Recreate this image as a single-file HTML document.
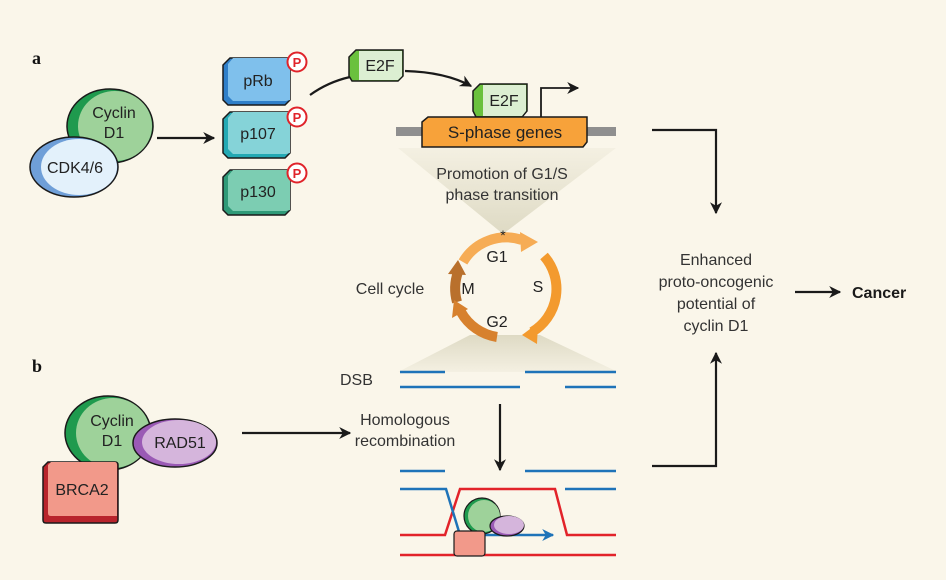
<!DOCTYPE html>
<html><head><meta charset="utf-8"><style>
html,body{margin:0;padding:0;background:#faf6ea;}
svg{display:block;font-family:"Liberation Sans",sans-serif;}
</style></head><body>
<svg width="946" height="580" viewBox="0 0 946 580" xmlns="http://www.w3.org/2000/svg">
<defs>
<linearGradient id="fan1" x1="0" y1="0" x2="0" y2="1"><stop offset="0" stop-color="#f4f0e2"/><stop offset="1" stop-color="#dedac4"/></linearGradient>
<linearGradient id="fan2" x1="0" y1="0" x2="0" y2="1"><stop offset="0" stop-color="#dedac4"/><stop offset="1" stop-color="#f4f0e2"/></linearGradient>
<marker id="ahb" viewBox="0 0 10 10" refX="9" refY="5" markerWidth="12" markerHeight="12" orient="auto" markerUnits="userSpaceOnUse"><path d="M0,0 L10,5 L0,10 L3,5z" fill="#1a1a1a"/></marker>
<marker id="ahblue" viewBox="0 0 10 10" refX="9" refY="5" markerWidth="12" markerHeight="12" orient="auto" markerUnits="userSpaceOnUse"><path d="M0,0 L10,5 L0,10 L3,5z" fill="#1e73b8"/></marker>
</defs>
<rect width="946" height="580" fill="#faf6ea"/>

<polygon points="398,148 616,148 503,234" fill="url(#fan1)"/>
<polygon points="470,335 540,335 618,372 398,372" fill="url(#fan2)"/>

<text x="32" y="64" font-family="Liberation Serif,serif" font-weight="bold" font-size="18" fill="#111">a</text>
<text x="32" y="372" font-family="Liberation Serif,serif" font-weight="bold" font-size="18" fill="#111">b</text>

<ellipse cx="110" cy="126" rx="43" ry="37" fill="#1f9a4e" stroke="#1a1a1a" stroke-width="1.5"/>
<ellipse cx="115" cy="126" rx="37" ry="35" fill="#9ed29a"/>
<text x="114" y="118" font-size="16" text-anchor="middle" fill="#222">Cyclin</text>
<text x="114" y="138" font-size="16" text-anchor="middle" fill="#222">D1</text>
<ellipse cx="74" cy="167" rx="44" ry="30" fill="#6f9fd8" stroke="#1a1a1a" stroke-width="1.5"/>
<ellipse cx="79" cy="167" rx="38" ry="28" fill="#e3f1fb"/>
<text x="75" y="173" font-size="16" text-anchor="middle" fill="#222">CDK4/6</text>
<line x1="157" y1="138" x2="214" y2="138" stroke="#1a1a1a" stroke-width="2.2" marker-end="url(#ahb)"/>

<g stroke="#1a1a1a" stroke-width="1.5">
<path d="M230,58 H290 V100 L285,105 H228 L223,100 V65 Z" fill="#2f7fc9"/>
<path d="M233,58 H290 V100 L286,101 H233 L228,96 V64 Z" fill="#7fc0ec" stroke="none"/>
<path d="M230,112 H290 V153 L285,158 H228 L223,153 V119 Z" fill="#23a9b4"/>
<path d="M233,112 H290 V153 L286,154 H233 L228,149 V118 Z" fill="#85d3d8" stroke="none"/>
<path d="M230,170 H290 V210 L285,215 H228 L223,210 V177 Z" fill="#2f9a78"/>
<path d="M233,170 H290 V210 L286,211 H233 L228,206 V176 Z" fill="#7ccdb2" stroke="none"/>
</g>
<text x="258" y="86" font-size="16" text-anchor="middle" fill="#222">pRb</text>
<text x="258" y="139" font-size="16" text-anchor="middle" fill="#222">p107</text>
<text x="258" y="197" font-size="16" text-anchor="middle" fill="#222">p130</text>
<g font-size="13" font-weight="bold" text-anchor="middle" fill="#e0232a">
<circle cx="297" cy="62" r="9.5" fill="#fff" stroke="#e0232a" stroke-width="2"/><text x="297" y="67">P</text>
<circle cx="297" cy="117" r="9.5" fill="#fff" stroke="#e0232a" stroke-width="2"/><text x="297" y="122">P</text>
<circle cx="297" cy="173" r="9.5" fill="#fff" stroke="#e0232a" stroke-width="2"/><text x="297" y="178">P</text>
</g>

<path d="M310,95 Q328,82 350,77" fill="none" stroke="#1a1a1a" stroke-width="2.2"/>
<path d="M405,71 Q445,72 471,86" fill="none" stroke="#1a1a1a" stroke-width="2.2" marker-end="url(#ahb)"/>
<path d="M356,50 H403 V76 L398,81 H352 L349,76 V57 Z" fill="#6ac13d" stroke="#1a1a1a" stroke-width="1.5"/>
<path d="M359,51 H402 V76 L398,80 H359 Z" fill="#dcefd2"/>
<text x="380" y="71" font-size="16" text-anchor="middle" fill="#222">E2F</text>

<rect x="396" y="127" width="220" height="9" fill="#8f8f8f"/>
<path d="M480,84 H527 V111 L522,117 H476 L473,111 V91 Z" fill="#6ac13d" stroke="#1a1a1a" stroke-width="1.5"/>
<path d="M483,85 H526 V111 L522,116 H483 Z" fill="#dcefd2"/>
<text x="504" y="106" font-size="16" text-anchor="middle" fill="#222">E2F</text>
<path d="M541,117 V88 H578" fill="none" stroke="#1a1a1a" stroke-width="1.8" marker-end="url(#ahb)"/>
<path d="M428,117 H587 V142 L583,147 H422 V122 Z" fill="#f7a23a" stroke="#1a1a1a" stroke-width="1.5"/>
<text x="505" y="138" font-size="17" text-anchor="middle" fill="#222">S-phase genes</text>

<text x="502" y="179" font-size="16" text-anchor="middle" fill="#333">Promotion of G1/S</text>
<text x="502" y="200" font-size="16" text-anchor="middle" fill="#333">phase transition</text>

<g fill="none" stroke-width="10">
<path d="M463,262 A50,50 0 0 1 522,240" stroke="#f6ac55"/>
<path d="M544,256 A50,50 0 0 1 532,332" stroke="#f39a2e"/>
<path d="M497,337 A50,50 0 0 1 461,312" stroke="#d7812e"/>
<path d="M457,302 A50,50 0 0 1 458,272" stroke="#b9702c"/>
</g>
<polygon points="520,232 538,242 521,252" fill="#f6ac55"/>
<polygon points="538,323 537,344 522,335" fill="#f39a2e"/>
<polygon points="452,318 454,300 468,309" fill="#d7812e"/>
<polygon points="448,274 458,260 466,275" fill="#b9702c"/>
<text x="503" y="240" font-size="14" text-anchor="middle" fill="#222">*</text>
<g font-size="16" fill="#222" text-anchor="middle">
<text x="497" y="262">G1</text><text x="538" y="292">S</text><text x="468" y="294">M</text><text x="497" y="327">G2</text>
</g>
<text x="390" y="294" font-size="16" text-anchor="middle" fill="#333">Cell cycle</text>

<text x="340" y="385" font-size="16" fill="#333">DSB</text>
<g stroke="#1e73b8" stroke-width="2.5">
<line x1="400" y1="372" x2="445" y2="372"/><line x1="525" y1="372" x2="616" y2="372"/>
<line x1="400" y1="387" x2="520" y2="387"/><line x1="565" y1="387" x2="616" y2="387"/>
<line x1="400" y1="471" x2="445" y2="471"/><line x1="525" y1="471" x2="616" y2="471"/>
<line x1="565" y1="489" x2="616" y2="489"/>
</g>
<line x1="500" y1="404" x2="500" y2="470" stroke="#1a1a1a" stroke-width="2.2" marker-end="url(#ahb)"/>
<text x="405" y="425" font-size="16" text-anchor="middle" fill="#333">Homologous</text>
<text x="405" y="446" font-size="16" text-anchor="middle" fill="#333">recombination</text>

<path d="M400,535 H445 L460,489 H555 L567,535 H616" fill="none" stroke="#e2232a" stroke-width="2.5"/>
<line x1="400" y1="555" x2="616" y2="555" stroke="#e2232a" stroke-width="2.5"/>
<path d="M400,489 H446 L460,535 H553" fill="none" stroke="#1e73b8" stroke-width="2.5" marker-end="url(#ahblue)"/>
<circle cx="482" cy="516" r="18" fill="#1f9a4e" stroke="#1a1a1a" stroke-width="1.2"/>
<circle cx="484" cy="516" r="16" fill="#9ed29a"/>
<ellipse cx="507" cy="526" rx="17" ry="10" fill="#9a5ab5" stroke="#1a1a1a" stroke-width="1.2"/>
<ellipse cx="509" cy="525" rx="15" ry="9" fill="#d5b5dc"/>
<rect x="454" y="531" width="31" height="25" rx="3" fill="#f2998a" stroke="#1a1a1a" stroke-width="1.2"/>

<ellipse cx="108" cy="433" rx="43" ry="37" fill="#1f9a4e" stroke="#1a1a1a" stroke-width="1.5"/>
<ellipse cx="113" cy="433" rx="37" ry="35" fill="#9ed29a"/>
<text x="112" y="426" font-size="16" text-anchor="middle" fill="#222">Cyclin</text>
<text x="112" y="446" font-size="16" text-anchor="middle" fill="#222">D1</text>
<ellipse cx="175" cy="443" rx="42" ry="24" fill="#9a5ab5" stroke="#1a1a1a" stroke-width="1.5"/>
<ellipse cx="179" cy="442" rx="37" ry="22" fill="#d5b5dc"/>
<text x="180" y="448" font-size="16" text-anchor="middle" fill="#222">RAD51</text>
<path d="M48,462 H115 Q118,462 118,465 V520 Q118,523 115,523 H46 Q43,523 43,520 V467 Z" fill="#b8242c" stroke="#1a1a1a" stroke-width="1.5"/>
<path d="M51,462 H115 Q117,462 117,465 V516 H51 Q48,516 48,513 V465 Z" fill="#f2998a"/>
<text x="82" y="495" font-size="16" text-anchor="middle" fill="#222">BRCA2</text>
<line x1="242" y1="433" x2="350" y2="433" stroke="#1a1a1a" stroke-width="2.2" marker-end="url(#ahb)"/>

<path d="M652,130 H716 V213" fill="none" stroke="#1a1a1a" stroke-width="2.2" marker-end="url(#ahb)"/>
<path d="M652,466 H716 V353" fill="none" stroke="#1a1a1a" stroke-width="2.2" marker-end="url(#ahb)"/>
<g font-size="16" text-anchor="middle" fill="#333">
<text x="716" y="265">Enhanced</text>
<text x="716" y="287">proto-oncogenic</text>
<text x="716" y="309">potential of</text>
<text x="716" y="331">cyclin D1</text>
</g>
<line x1="795" y1="292" x2="840" y2="292" stroke="#1a1a1a" stroke-width="2.2" marker-end="url(#ahb)"/>
<text x="852" y="298" font-size="16" font-weight="bold" fill="#1a1a1a">Cancer</text>
</svg>
</body></html>
